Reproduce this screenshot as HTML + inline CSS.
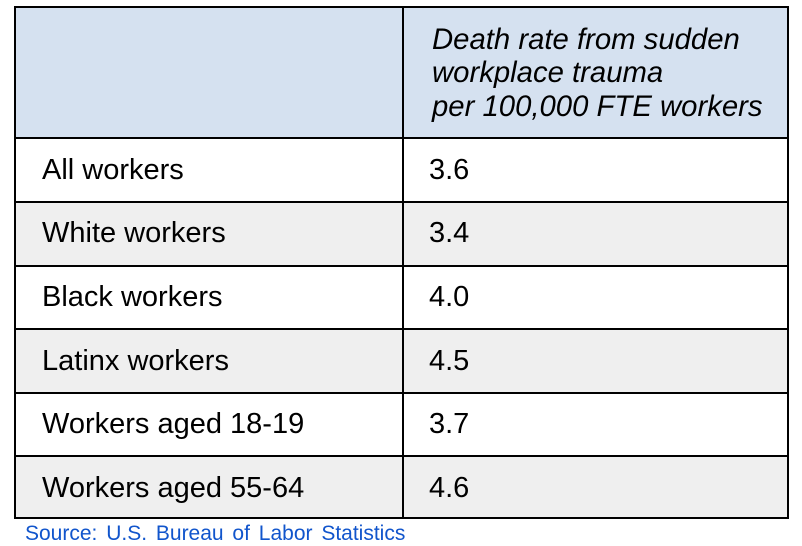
<!DOCTYPE html>
<html>
<head>
<meta charset="utf-8">
<style>
  html, body { margin:0; padding:0; background:#ffffff; }
  body { width:802px; height:528px; position:relative; overflow:hidden;
         font-family:"Liberation Sans", Arial, sans-serif; color:#000; }
  .bg { position:absolute; left:15px; width:773px; }
  .ln { position:absolute; background:#000; }
  .t { position:absolute; font-size:29px; line-height:33.5px; white-space:nowrap; }
  .hd { font-style:italic; font-size:29.3px; }
  .src { position:absolute; left:25px; top:522px; font-size:21px; line-height:24px;
         color:#1155cc; white-space:nowrap; word-spacing:3px; }
</style>
</head>
<body>
  <!-- backgrounds -->
  <div class="bg" style="top:7px;height:131px;background:#d5e1f0;"></div>
  <div class="bg" style="top:138px;height:64px;background:#ffffff;"></div>
  <div class="bg" style="top:202px;height:64px;background:#efefef;"></div>
  <div class="bg" style="top:266px;height:63px;background:#ffffff;"></div>
  <div class="bg" style="top:329px;height:64px;background:#efefef;"></div>
  <div class="bg" style="top:393px;height:63px;background:#ffffff;"></div>
  <div class="bg" style="top:456px;height:62px;background:#efefef;"></div>

  <!-- horizontal lines -->
  <div class="ln" style="left:14px;width:775px;top:6px;height:2.3px;"></div>
  <div class="ln" style="left:14px;width:775px;top:137px;height:2px;"></div>
  <div class="ln" style="left:14px;width:775px;top:201px;height:2px;"></div>
  <div class="ln" style="left:14px;width:775px;top:265px;height:2px;"></div>
  <div class="ln" style="left:14px;width:775px;top:328px;height:2px;"></div>
  <div class="ln" style="left:14px;width:775px;top:392px;height:2px;"></div>
  <div class="ln" style="left:14px;width:775px;top:455px;height:2px;"></div>
  <div class="ln" style="left:14px;width:775px;top:517px;height:2.3px;"></div>
  <!-- vertical lines -->
  <div class="ln" style="left:14px;width:2.3px;top:6px;height:513px;"></div>
  <div class="ln" style="left:402px;width:2px;top:6px;height:513px;"></div>
  <div class="ln" style="left:787px;width:2.3px;top:6px;height:513px;"></div>

  <!-- header -->
  <div class="t hd" style="left:432px;top:22.5px;">Death rate from sudden</div>
  <div class="t hd" style="left:432px;top:56px;">workplace trauma</div>
  <div class="t hd" style="left:432px;top:89.5px;">per 100,000 FTE workers</div>

  <!-- rows -->
  <div class="t" style="left:42px;top:153.8px;">All workers</div>
  <div class="t" style="left:429px;top:153.8px;">3.6</div>

  <div class="t" style="left:42px;top:217.4px;">White workers</div>
  <div class="t" style="left:429px;top:217.4px;">3.4</div>

  <div class="t" style="left:42px;top:281px;">Black workers</div>
  <div class="t" style="left:429px;top:281px;">4.0</div>

  <div class="t" style="left:42px;top:344.6px;">Latinx workers</div>
  <div class="t" style="left:429px;top:344.6px;">4.5</div>

  <div class="t" style="left:42px;top:408.2px;">Workers aged 18-19</div>
  <div class="t" style="left:429px;top:408.2px;">3.7</div>

  <div class="t" style="left:42px;top:471.8px;">Workers aged 55-64</div>
  <div class="t" style="left:429px;top:471.8px;">4.6</div>

  <div class="src">Source: U.S. Bureau of Labor Statistics</div>
</body>
</html>
